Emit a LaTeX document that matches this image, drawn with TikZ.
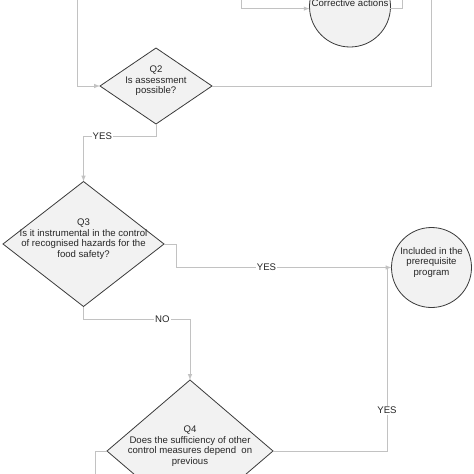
\documentclass[tikz,border=0pt]{standalone}
\usepackage{fontspec}
\setmainfont{Liberation Sans}
\usepackage{tikz}
\usetikzlibrary{shapes.geometric,arrows}
\definecolor{linie}{HTML}{C2C2C2}
\definecolor{rand}{HTML}{3A3A3A}
\definecolor{flaeche}{HTML}{F2F2F2}
\tikzset{
  frage/.style={diamond, draw=rand, fill=flaeche, line width=0.8pt, inner sep=0pt, outer sep=0pt},
  kreis/.style={circle, draw=rand, fill=flaeche, line width=0.8pt, inner sep=0pt, outer sep=0pt},
  txt/.style={align=center, font=\fontsize{9.6}{10.6}\selectfont, text=black!85, yshift=5pt},
  weg/.style={draw=linie, line width=1pt},
  pfeil/.style={weg, ->},
  marke/.style={fill=white, inner sep=1pt, text=black!85, font=\fontsize{9.6}{10.6}\selectfont}
}

\begin{document}
\begin{tikzpicture}[x=1pt, y=-1pt, >=latex]
	 % Bildausschnitt:
	 \useasboundingbox (0,0) rectangle (474,474);
	 \clip (0,0) rectangle (474,474);
	 % Kreise:
	 \node[kreis, minimum size=81pt, label={[txt, yshift=-1.5pt]center:Corrective actions}] (corr) at (350,6.5) {};
	 \node[kreis, minimum size=80pt, label={[txt]center:{Included in the\\prerequisite\\program}}] (prp) at (431.5,267.5) {};
	 % Fragen als Rauten:
	 \node[frage, minimum width=112pt, minimum height=76pt, label={[txt]center:{Q2\\Is assessment\\possible?}}] (q2) at (156,86) {};
	 \node[frage, minimum width=161pt, minimum height=125pt, label={[txt]center:{Q3\\Is it instrumental in the control\\of recognised hazards for the\\food safety?}}] (q3) at (83.5,244) {};
	 \node[frage, minimum width=166pt, minimum height=142pt, label={[txt]center:{Q4\\Does the sufficiency of other\\control measures depend\ \ on\\previous}}] (q4) at (190,451) {};
	 % freie Enden außerhalb des Ausschnitts:
	 \coordinate (oben1) at (241,-10);
	 \coordinate (oben2) at (402,-10);
	 \coordinate (oben3) at (77,-10);
	 \coordinate (oben4) at (431,-10);
	 \coordinate (knick) at (387,267.5);
	 \coordinate (unten) at (95,490);
	 % Zulauf zu den Korrekturmaßnahmen:
	 \draw[pfeil] (oben1) |- (corr.183.5);
	 \draw[weg] (corr.-3.5) -| (oben2);
	 % äußere Schleife um Q2:
	 \draw[pfeil] (oben3) |- (q2.west);
	 \draw[weg] (q2.east) -| (oben4);
	 % Antworten mit Beschriftung:
	 \draw[pfeil] (q2.south) -- ++(0,12) -| node[marke, pos=0.37] {YES} (q3.north);
	 \draw[pfeil] (q3.east) -- ++(12,0) |- node[marke, pos=0.71] {YES} (prp.west);
	 \draw[pfeil] (q3.south) -- ++(0,12.5) -| node[marke, pos=0.37] {NO} (q4.north);
	 \draw[weg] (q4.east) -| node[marke, pos=0.61] {YES} (knick);
	 \draw[weg] (q4.west) -| (unten);
\end{tikzpicture}
\end{document}
